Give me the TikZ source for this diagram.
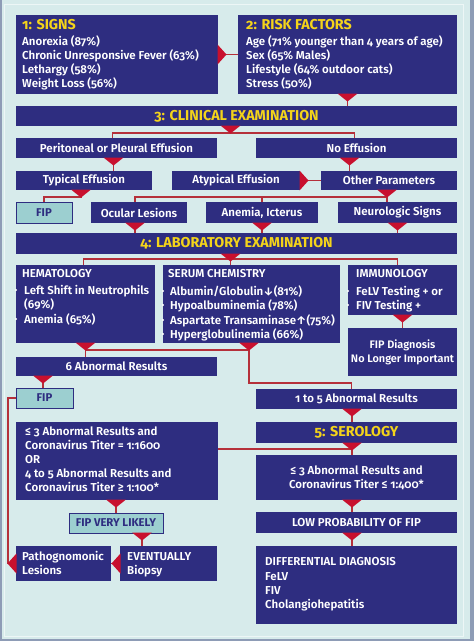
\documentclass[tikz,border=0pt]{standalone}
\usepackage{fontspec}
\setmainfont{Fira Sans}[Numbers=OldStyle,UprightFont=* SemiBold,BoldFont=* Bold]
\usetikzlibrary{calc}
\definecolor{bgc}{HTML}{D7EBEB}
\definecolor{nvc}{HTML}{2E2D80}
\definecolor{ylc}{HTML}{F4D41A}
\definecolor{rdc}{HTML}{C8102E}
\definecolor{lnc}{HTML}{B5303A}
\definecolor{ltc}{HTML}{9CCFD0}
\definecolor{brc}{HTML}{8E9CB6}
\newcommand\mkbox[7][bx]{\node[#1,minimum width={(#5-#3)*1pt},minimum height={(#6-#4)*1pt}] (#2) at (#3,#4) {#7};}
\newcommand\tline[4]{\node[tx] (#1) at (#2,#3) {#4};}
\newcommand\ttline[4]{\node[tt] (#1) at (#2,#3) {#4};}
\tikzset{
 bx/.style={fill=nvc,inner sep=0pt,outer sep=0pt,anchor=north west,text=white,font=\fontsize{11.5}{14}\selectfont},
 lbx/.style={bx,fill=ltc,draw=nvc,line width=1pt,text=nvc,font=\bfseries\fontsize{11.3}{14}\selectfont},
 tx/.style={inner sep=0pt,anchor=base west,text=white,font=\fontsize{11.5}{14}\selectfont},
 tt/.style={tx,text=ylc,font=\bfseries\fontsize{14.3}{14}\selectfont},
 ttc/.style={bx,text=ylc,font=\bfseries\fontsize{14.3}{14}\selectfont},
 conn/.style={draw=lnc,line width=1.2pt},
 tD/.pic={\fill[rdc] (-10,-0.5) -- (10,-0.5) -- (0,7.5) -- cycle;},
 tR/.pic={\fill[rdc] (-0.5,-10) -- (-0.5,10) -- (8.5,0) -- cycle;},
 tL/.pic={\fill[rdc] (0.5,-10) -- (0.5,10) -- (-8.5,0) -- cycle;},
}
\begin{document}
\begin{tikzpicture}[x=1pt,y=-1pt]
\useasboundingbox (0,0) rectangle (474,641);
\fill[bgc] (0,0) rectangle (474,641);
\draw[white!55!bgc,line width=1pt] (4.5,4.5) rectangle (463.5,636.5);
\fill[brc] (0,0) rectangle (2,641);
\fill[brc] (0,639) rectangle (474,641);
\fill[brc] (470,0) rectangle (474,641);

% ---------- boxes ----------
\mkbox{signs}{16}{15}{218}{94}{}
\mkbox{risk}{238}{15}{457}{94}{}
\mkbox[ttc]{clin}{16}{106}{457}{126}{3: CLINICAL EXAMINATION}
\mkbox{peri}{16}{138}{217}{158}{Peritoneal or Pleural Effusion}
\mkbox{noeff}{256}{138}{457}{158}{No Effusion}
\mkbox{typ}{16}{171}{152}{190}{Typical Effusion}
\mkbox{atyp}{172}{171}{300}{190}{Atypical Effusion}
\mkbox{other}{321}{171}{457}{190}{Other Parameters}
\mkbox[lbx]{fipa}{16}{202}{72}{223}{FIP}
\mkbox{ocul}{91}{202}{187}{223}{Ocular Lesions}
\mkbox{anem}{206}{202}{318}{223}{Anemia, Icterus}
\mkbox{neuro}{338}{202}{457}{223}{Neurologic Signs}
\mkbox[ttc]{lab}{16}{233}{457}{254}{4: LABORATORY EXAMINATION}
\mkbox{hema}{16}{265}{155}{343}{}
\mkbox{serum}{163}{265}{340}{343}{}
\mkbox{immu}{348}{265}{457}{315}{}
\mkbox[bx,align=center,font=\fontsize{10.9}{14}\selectfont]{fipd}{348}{328}{457}{376}{FIP Diagnosis\\No Longer Important}
\mkbox{six}{16}{357}{217}{376}{6 Abnormal Results}
\mkbox[lbx]{fipb}{16}{388}{73}{408}{FIP}
\mkbox{onefive}{256}{389}{457}{409}{1 to 5 Abnormal Results}
\mkbox{lle}{16}{422}{218}{500}{}
\mkbox[ttc]{sero}{256}{422}{457}{443}{5: SEROLOGY}
\mkbox[bx,align=center]{rle}{256}{455}{457}{500}{≤ 3 Abnormal Results and\\Coronavirus Titer ≤ 1:400*}
\mkbox[lbx]{likely}{69}{513}{163}{533}{FIP VERY LIKELY}
\mkbox{lowp}{256}{512}{457}{533}{LOW PROBABILITY OF FIP}
\mkbox{patho}{16}{546}{111}{581}{}
\mkbox{event}{120}{546}{217}{581}{}
\mkbox{diff}{256}{546}{457}{624}{}

% ---------- left aligned texts ----------
\ttline{s0}{22}{29}{1: SIGNS}
\tline{s1}{22}{45}{Anorexia (87\%)}
\tline{s2}{22}{59}{Chronic Unresponsive Fever (63\%)}
\tline{s3}{22}{73}{Lethargy (58\%)}
\tline{s4}{22}{87}{Weight Loss (56\%)}
\ttline{r0}{246}{29}{2: RISK FACTORS}
\tline{r1}{246}{45}{Age (71\% younger than 4 years of age)}
\tline{r2}{246}{59}{Sex (65\% Males)}
\tline{r3}{246}{73}{Lifestyle (64\% outdoor cats)}
\tline{r4}{246}{87}{Stress (50\%)}
\tline{h0}{22}{277}{HEMATOLOGY}
\tline{h1}{24}{294}{Left Shift in Neutrophils}
\tline{h2}{24}{308}{(69\%)}
\tline{h3}{24}{323}{Anemia (65\%)}
\tline{c0}{168}{277}{SERUM CHEMISTRY}
\tline{c1}{170}{295}{Albumin/Globulin↓(81\%)}
\tline{c2}{170}{309}{Hypoalbuminemia (78\%)}
\tline{c3}{170}{324}{Aspartate Transaminase↑(75\%)}
\tline{c4}{170}{338}{Hyperglobulinemia (66\%)}
\tline{i0}{356}{277}{IMMUNOLOGY}
\tline{i1}{356}{295}{FeLV Testing + or}
\tline{i2}{356}{309}{FIV Testing +}
\tline{l1}{25}{435}{≤ 3 Abnormal Results and}
\tline{l2}{25}{449}{Coronavirus Titer = 1:1600}
\tline{l3}{25}{463}{OR}
\tline{l4}{25}{477}{4 to 5 Abnormal Results and}
\tline{l5}{25}{491}{Coronavirus Titer ≥ 1:100*}
\tline{p1}{22}{560}{Pathognomonic}
\tline{p2}{22}{574}{Lesions}
\tline{e1}{127}{560}{EVENTUALLY}
\tline{e2}{127}{574}{Biopsy}
\tline{d1}{265}{565}{DIFFERENTIAL DIAGNOSIS}
\tline{d2}{265}{580}{FeLV}
\tline{d3}{265}{594}{FIV}
\tline{d4}{265}{608}{Cholangiohepatitis}
% bullets
\foreach \yy in {290,319} \fill[white] (16,\yy) circle (1.2);
\foreach \yy in {291,305,320,334} \fill[white] (163,\yy) circle (1.2);
\foreach \yy in {291,305} \fill[white] (348,\yy) circle (1.2);

% ---------- connectors ----------
% 1 -> 2
\draw[conn] (signs.east) -- (risk.west);
\path (signs.east) pic{tR};
% 2 -> 3
\draw[conn] (risk.south) -- (risk.south |- clin.north);
\path (risk.south) pic{tD};
% 3 -> effusion / no effusion
\coordinate (a3) at ($(clin.south)+(-6,0)$);
\draw[conn] (a3) -- ++(0,7) coordinate (j3);
\draw[conn] ($(peri.north)+(-4,0)$) |- (j3) -| ($(noeff.north)+(-2,0)$);
\path (a3) pic{tD};
% peri -> typ
\coordinate (a4) at ($(peri.south)+(-3,0)$);
\draw[conn] (a4) -- (a4 |- typ.north);
\path (a4) pic{tD};
% noeff -> other
\coordinate (a5) at ($(noeff.south)+(-7,0)$);
\draw[conn] (a5) -- (a5 |- other.north);
\path (a5) pic{tD};
% atyp -> other
\draw[conn] (atyp.east) -- (other.west);
\path (atyp.east) pic{tR};
% typ -> FIP
\coordinate (a7) at ($(typ.south)+(-3,0)$);
\draw[conn] (a7) -- ++(0,7) -| (fipa.north);
\path (a7) pic{tD};
% other -> ocular, anemia, neuro
\coordinate (a8) at ($(other.south)+(-2,0)$);
\coordinate (j8) at ($(a8)+(0,7)$);
\draw[conn] (a8) -- (a8 |- neuro.north);
\draw[conn] ($(ocul.north)+(-4,0)$) |- (j8);
\draw[conn] (anem.north) -- (anem.north |- j8);
\path (a8) pic{tD};
% ocular, anemia, neuro -> lab
\coordinate (a9a) at ($(ocul.south)+(-4,0)$);
\draw[conn] (a9a) -- (a9a |- lab.north);
\path (a9a) pic{tD};
\draw[conn] (anem.south) -- (anem.south |- lab.north);
\path (anem.south) pic{tD};
\draw[conn] (neuro.south) -- (neuro.south |- lab.north);
\path (neuro.south) pic{tD};
% lab -> hema, serum, immu
\coordinate (a10) at ($(lab.south)+(-6,0)$);
\coordinate (j10) at ($(a10)+(0,5)$);
\draw[conn] (a10) -- (a10 |- serum.north);
\draw[conn] ($(hema.north)+(-2,0)$) |- (j10) -| ($(immu.north)+(-5,0)$);
\path (a10) pic{tD};
% immu -> FIP diagnosis
\draw[conn] (immu.south) -- (immu.south |- fipd.north);
\path (immu.south) pic{tD};
% hema -> six ; serum -> 1 to 5
\coordinate (a12) at ($(serum.south)+(-2.5,0)$);
\coordinate (j12) at ($(hema.south)+(0,7)$);
\draw[conn] (hema.south) -- (hema.south |- six.north);
\draw[conn] (j12) -| (a12);
\draw[conn] (a12) |- ($(onefive.north)+(-5,-6)$) -- ($(onefive.north)+(-5,0)$);
\path (hema.south) pic{tD};
\path (a12) pic{tD};
% six -> FIP
\coordinate (a13) at ($(six.south west)+(27,0)$);
\draw[conn] (a13) -- (a13 |- fipb.north);
\path (a13) pic{tD};
% 1 to 5 -> serology
\coordinate (a14) at ($(onefive.south)+(-4.5,0)$);
\draw[conn] (a14) -- (a14 |- sero.north);
\path (a14) pic{tD};
% serology -> right box, left box
\coordinate (a15) at ($(sero.south)+(-4.5,0)$);
\coordinate (j15) at ($(a15)+(0,6)$);
\draw[conn] (a15) -- (a15 |- rle.north);
\draw[conn] (j15) -- (j15 -| lle.east);
\path (a15) pic{tD};
% right box -> low probability
\coordinate (a16) at ($(rle.south)+(-4.5,0)$);
\draw[conn] (a16) -- (a16 |- lowp.north);
\path (a16) pic{tD};
% low probability -> differential
\coordinate (a17) at ($(lowp.south)+(-4.5,0)$);
\draw[conn] (a17) -- (a17 |- diff.north);
\path (a17) pic{tD};
% left box -> FIP very likely
\coordinate (a18) at (lle.south -| likely.north);
\draw[conn] (a18) -- (likely.north);
\path (a18) pic{tD};
% FIP very likely -> eventually
\coordinate (a19) at ($(likely.south)+(26,0)$);
\draw[conn] (a19) -- (a19 |- event.north);
\path (a19) pic{tD};
% eventually -> pathognomonic
\draw[conn] (event.west) -- (patho.east);
\path (event.west) pic{tL};
% pathognomonic -> FIP
\draw[conn] (patho.west) -- ++(-8,0) |- (fipb.west);
\path (patho.west) pic{tL};
\end{tikzpicture}
\end{document}
